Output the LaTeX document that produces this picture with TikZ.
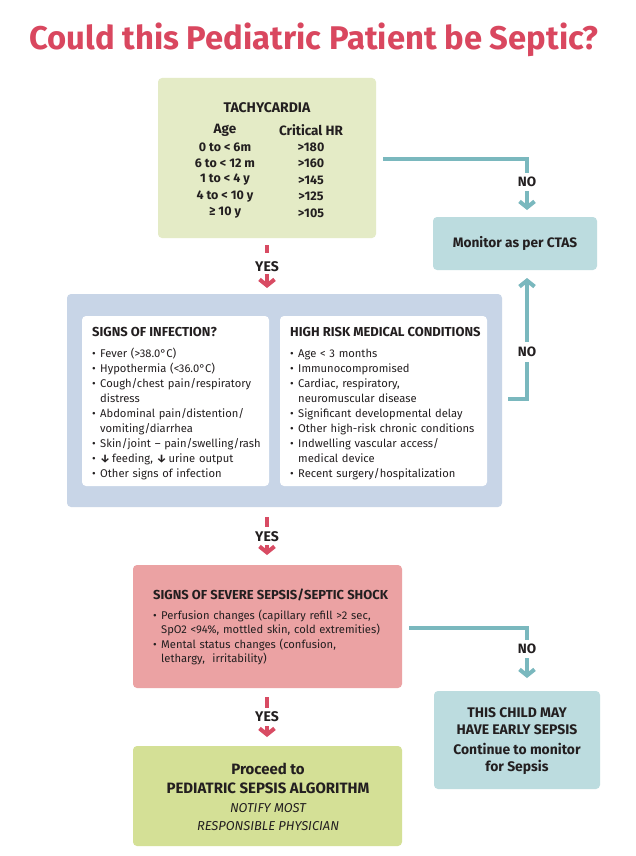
\documentclass[tikz,border=0pt]{standalone}
\usepackage{fontspec}
\setmainfont{Fira Sans}
\usetikzlibrary{arrows.meta,calc}
\definecolor{titlered}{HTML}{D9475F}
\definecolor{arrred}{HTML}{D84B63}
\definecolor{tealline}{HTML}{7AB8BE}
\definecolor{tachyfill}{HTML}{E4EBC6}
\definecolor{monfill}{HTML}{BCDCDF}
\definecolor{bigfill}{HTML}{C8D5E7}
\definecolor{redfill}{HTML}{EBA2A3}
\definecolor{greenfill}{HTML}{D4E096}
\definecolor{txt}{HTML}{231F20}
\newcommand\bitem[1]{\par\noindent\makebox[8pt][l]{•}\strut#1}
\newcommand\bnext[1]{\par\noindent\hspace*{8pt}\strut#1}
\begin{document}
\begin{tikzpicture}[x=1pt,y=-1pt,
  box/.style={rounded corners=4pt,anchor=north west,inner sep=0pt,outer sep=0pt},
  lbl/.style={text=txt,inner sep=0pt},
  hd/.style={text=txt,inner sep=0pt,font=\fontsize{13}{15}\selectfont\bfseries},
  lst/.style={text=txt,inner sep=0pt,anchor=north west,text width=230pt,align=left},
  tealc/.style={draw=tealline,line width=4pt},
  tealarr/.style={draw=tealline,line width=4pt,-{Straight Barb[length=6pt,width=15pt]}},
  redc/.style={draw=arrred,line width=4pt},
  redarr/.style={draw=arrred,line width=4pt,-{Straight Barb[length=6pt,width=15pt]}},
  ans/.style={text=txt,inner sep=0pt,font=\fontsize{14}{16}\selectfont\bfseries}
]
\useasboundingbox[fill=white] (0,0) rectangle (636,856);

% title
\node[text=titlered,font=\fontsize{32.8}{36}\selectfont\bfseries,inner sep=0pt] (title) at (314,40) {Could this Pediatric Patient be Septic?};

% tachycardia box
\node[box,fill=tachyfill,minimum width=218pt,minimum height=160pt] (tachy) at (158,78) {};
\node[lbl,font=\fontsize{14}{16}\selectfont\bfseries] (tt) at (267,108) {TACHYCARDIA};
\node[lbl,font=\fontsize{13.5}{15}\selectfont\bfseries] (agehd) at (225,130) {Age};
\node[lbl,font=\fontsize{13.5}{15}\selectfont\bfseries] (hrhd) at (311,130) {Critical HR};
\foreach \i/\a/\v/\yy in {1/0 to < 6m/>180/147, 2/6 to < 12 m/>160/163.5, 3/1 to < 4 y/>145/180, 4/4 to < 10 y/>125/196.5, 5/≥ 10 y/>105/213}{
  \node[lbl,font=\fontsize{12.5}{14}\selectfont\bfseries] (r\i) at (225,\yy) {\a};
  \node[lbl,font=\fontsize{12.5}{14}\selectfont\bfseries] (v\i) at (311,\yy) {\v};
}

% monitor box
\node[box,fill=monfill,minimum width=164pt,minimum height=53pt] (monitor) at (433,217) {};
\node[lbl,font=\fontsize{13.7}{15}\selectfont\bfseries] (mont) at (515,243.5) {Monitor as per CTAS};

% big box
\node[box,fill=bigfill,minimum width=435pt,minimum height=213pt] (big) at (67,294) {};
\node[box,fill=white,minimum width=187pt,minimum height=170pt] (inf) at (82,316) {};
\node[box,fill=white,minimum width=207pt,minimum height=170pt] (risk) at (280,316) {};

\node[hd,anchor=west] (infhd) at (92,332) {SIGNS OF INFECTION?};
\node[lst,font=\fontsize{11.2}{15}\selectfont] (inflist) at (92,342) {%
\bitem{Fever (>38.0°C)}
\bitem{Hypothermia (<36.0°C)}
\bitem{Cough/chest pain/respiratory}
\bnext{distress}
\bitem{Abdominal pain/distention/}
\bnext{vomiting/diarrhea}
\bitem{Skin/joint – pain/swelling/rash}
\bitem{\textbf{↓}\,feeding, \textbf{↓}\,urine output}
\bitem{Other signs of infection}};

\node[hd,anchor=west] (riskhd) at (290,332) {HIGH RISK MEDICAL CONDITIONS};
\node[lst,font=\fontsize{11.2}{15}\selectfont] (risklist) at (290,342) {%
\bitem{Age < 3 months}
\bitem{Immunocompromised}
\bitem{Cardiac, respiratory,}
\bnext{neuromuscular disease}
\bitem{Significant developmental delay}
\bitem{Other high-risk chronic conditions}
\bitem{Indwelling vascular access/}
\bnext{medical device}
\bitem{Recent surgery/hospitalization}};

% red box
\node[box,fill=redfill,minimum width=269pt,minimum height=123pt] (red) at (133,565) {};
\node[hd,anchor=west] (redhd) at (153,595) {SIGNS OF SEVERE SEPSIS/SEPTIC SHOCK};
\node[lst,font=\fontsize{11.2}{14.5}\selectfont,text width=260pt] (redlist) at (153,604.5) {%
\bitem{Perfusion changes (capillary refill >2 sec,}
\bnext{SpO2 <94\%, mottled skin, cold extremities)}
\bitem{Mental status changes (confusion,}
\bnext{lethargy,\ \ irritability)}};

% early sepsis box
\node[box,fill=monfill,minimum width=166pt,minimum height=98pt] (early) at (434,691) {};
\node[lbl,align=center,font=\fontsize{13.9}{17}\selectfont\bfseries] (earlyt) at (517,741) {THIS CHILD MAY\\HAVE EARLY SEPSIS\\[3pt]Continue to monitor\\for Sepsis};

% green box
\node[box,fill=greenfill,minimum width=269pt,minimum height=100pt] (green) at (133,746) {};
\node[lbl,align=center,font=\fontsize{15}{19}\selectfont\bfseries] (gt) at (268,778.5) {Proceed to\\PEDIATRIC SEPSIS ALGORITHM};
\node[lbl,align=center,font=\fontsize{12.9}{18}\selectfont\itshape] (gi) at (268,817) {NOTIFY MOST\\RESPONSIBLE PHYSICIAN};

% YES labels and arrows
\node[ans] (yes1) at (267,267) {YES};
\node[ans] (yes2) at (267,537) {YES};
\node[ans] (yes3) at (267,717) {YES};
\draw[redc,shorten <=7pt,shorten >=14pt] (tachy.south -| yes1) -- (yes1.center);
\draw[redarr,shorten <=7pt,shorten >=6pt] (yes1.center) -- (yes1 |- big.north);
\draw[redc,shorten <=10pt,shorten >=10pt] (yes2 |- big.south) -- (yes2.center);
\draw[redarr,shorten <=8pt,shorten >=10pt] (yes2.center) -- (yes2 |- red.north);
\draw[redc,shorten <=9pt,shorten >=9pt] (yes3 |- red.south) -- (yes3.center);
\draw[redarr,shorten <=9pt,shorten >=9pt] (yes3.center) -- (yes3 |- green.north);

% NO labels and teal connectors
\node[ans,font=\fontsize{13.5}{15}\selectfont\bfseries] (no1) at (527,182) {NO};
\node[ans,font=\fontsize{13.5}{15}\selectfont\bfseries] (no2) at (527,352) {NO};
\node[ans,font=\fontsize{13.5}{15}\selectfont\bfseries] (no3) at (527,649) {NO};
\draw[tealc] ($(tachy.east)+(7,1)$) -| ($(no1.north)+(0,-4)$);
\draw[tealarr] ($(no1.south)+(0,4)$) -- ($(no1.south |- monitor.north)+(0,-7)$);
\draw[tealc] ($(big.east)+(6,-2)$) -| ($(no2.south)+(0,5)$);
\draw[tealarr] ($(no2.north)+(0,-5)$) -- ($(no2.north |- monitor.south)+(0,8)$);
\draw[tealc] ($(red.east)+(7,1.5)$) -| ($(no3.north)+(0,-4)$);
\draw[tealarr] ($(no3.south)+(0,4)$) -- ($(no3.south |- early.north)+(0,-13)$);
\end{tikzpicture}
\end{document}
